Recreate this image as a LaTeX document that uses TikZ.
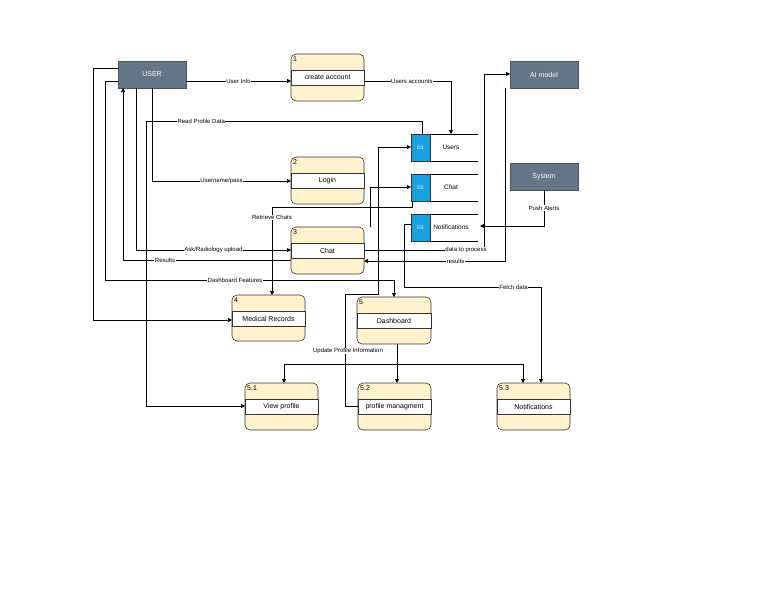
\documentclass[tikz,border=0pt]{standalone}
\usepackage{fontspec}
\setmainfont{Liberation Sans}
\usetikzlibrary{arrows.meta}
\definecolor{ext}{HTML}{647687}
\definecolor{proc}{HTML}{FFF2CC}
\definecolor{ds}{HTML}{1BA1E2}
\tikzset{
 ent/.style={draw=ext!70!black,fill=ext,text=white,minimum width=68pt,minimum height=27pt,inner sep=0pt,font=\fontsize{7}{8}\selectfont},
 lbl/.style={fill=white,inner sep=0.5pt,font=\fontsize{6}{7}\selectfont},
 arr/.style={-{Triangle[length=4pt,width=4pt]},line width=0.7pt},
 ln/.style={line width=0.7pt},
}
\newcommand{\proc}[6]{% name, x1,y1,x2,y2, num, text
 \draw[rounded corners=5pt,fill=proc,draw=black!80,line width=0.6pt] (#2,#3) rectangle (#4,#5);
}
\newcommand{\procbox}[7]{%
 \draw[rounded corners=5pt,fill=proc,draw=black!80,line width=0.6pt] (#2,#3) rectangle (#4,#5);
 \draw[fill=white,draw=black!80,line width=0.6pt] (#2,#3+16) rectangle (#4,#3+31);
 \node[anchor=north west,inner sep=1pt,font=\fontsize{7}{8}\selectfont] at (#2+1,#3+1) {#6};
 \node[font=\fontsize{7}{8}\selectfont,inner sep=0pt] (#1) at ({(#2+#4)/2},#3+23.5) {#7};
 \coordinate (#1-nw) at (#2,#3); \coordinate (#1-se) at (#4,#5);
}
\newcommand{\store}[4]{% name y id text
 \draw[fill=ds,draw=black!80,line width=0.6pt] (411,#2) rectangle (430,#2+27);
 \node[text=white,font=\fontsize{5}{6}\selectfont] at (420.5,#2+13.5) {#3};
 \draw[line width=0.7pt] (430,#2) -- (478,#2) (430,#2+27) -- (478,#2+27);
 \node[font=\fontsize{6.5}{7}\selectfont] (#1) at (451,#2+13) {#4};
}
\begin{document}
\begin{tikzpicture}[x=1pt,y=-1pt]
\useasboundingbox (0,0) rectangle (768,594);
\node[ent] (user) at (152,74.5) {USER};
\node[ent] (ai) at (544,74.5) {AI model};
\node[ent] (sys) at (544,177) {System};
\procbox{p1}{291}{54}{364}{101}{1}{create account}
\procbox{p2}{291}{157}{364}{204}{2}{Login}
\procbox{p3}{291}{227}{364}{274}{3}{Chat}
\procbox{p4}{232}{295}{305}{341}{4}{Medical Records}
\procbox{p5}{357}{297}{431}{344}{5}{Dashboard}
\procbox{p51}{245}{383}{318}{430}{5.1}{View profile}
\procbox{p52}{358}{383}{431}{430}{5.2}{profile managment}
\procbox{p53}{497}{383}{570}{430}{5.3}{Notifications}
\store{d1}{134}{D1}{Users}
\store{d2}{174}{D2}{Chat}
\store{d3}{214}{D3}{Notifications}

% user info
\draw[arr] (186,81) -- node[lbl]{User Info} (291,81);
\draw[arr] (364,81) -- node[lbl,pos=0.55]{Users accounts} (451,81) -- (451,134);
% read profile data
\draw[arr] (422,134) -- (422,121) -- node[lbl,pos=0.8]{Read Profile Data} (146,121) -- (146,406) -- (245,406);
% username
\draw[arr] (152,88) -- (152,181) -- node[lbl]{Username/pass} (291,181);
% ask
\draw[arr] (136,88) -- (136,250) -- node[lbl]{Ask/Radiology upload} (291,250);
% results
\draw[arr] (291,260) -- node[lbl,pos=0.75]{Results} (123,260) -- (123,88);
% medical records
\draw[arr] (118,68) -- (93,68) -- (93,320) -- (232,320);
% dashboard features
\draw[arr] (118,81) -- (105,81) -- (105,280) -- node[lbl,pos=0.45]{Dashboard Features} (394,280) -- (394,297);
% retrieve chats
\draw[arr] (412,201) -- (412,207) -- (272,207) -- node[lbl,pos=0.12]{Retrieve Chats} (272,295);
% chat -> D2
\draw[arr] (370,227) -- (370,187) -- (411,187);
% 5.2 -> D1
\draw[arr] (358,406) -- (345,406) -- (345,294) -- (378,294) -- (378,147) -- (411,147);
% data to process
\draw[arr] (364,250) -- node[lbl,pos=0.85]{data to process} (484,250) -- (484,74) -- (510,74);
% results from AI
\draw[arr] (505,88) -- (505,261) -- node[lbl,pos=0.35]{results} (364,261);
% push alerts
\draw[arr] (544,190) -- node[lbl]{Push Alerts} (544,226) -- (480,226);
% fetch data
\draw[arr] (411,224) -- (404,224) -- (404,287) -- node[lbl,pos=0.8]{Fetch data} (541,287) -- (541,383);
% dashboard splits
\draw[arr] (397,344) -- (397,383);
\node[lbl] at (348,351) {Update Profile Information};
\draw[arr] (397,364) -- (284,364) -- (284,383);
\draw[arr] (397,364) -- (523,364) -- (523,383);
\end{tikzpicture}
\end{document}
